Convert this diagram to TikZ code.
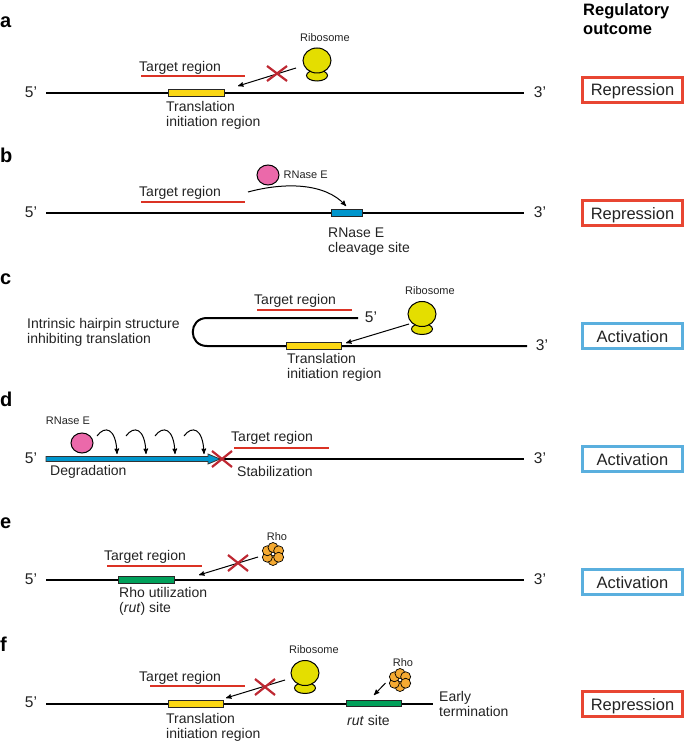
\documentclass[tikz,border=0pt]{standalone}
\usepackage{fontspec}
\setmainfont{Liberation Sans}
\usetikzlibrary{shapes}
\usetikzlibrary{arrows,positioning,calc}
\definecolor{targetred}{RGB}{219,50,36}
\definecolor{crossred}{RGB}{190,40,50}
\definecolor{boxred}{RGB}{232,70,50}
\definecolor{boxblue}{RGB}{90,175,222}
\definecolor{siteyellow}{RGB}{250,215,20}
\definecolor{riboyellow}{RGB}{228,222,0}
\definecolor{siteblue}{RGB}{0,150,205}
\definecolor{sitegreen}{RGB}{0,160,90}
\definecolor{rnasepink}{RGB}{235,105,170}
\definecolor{rhoorange}{RGB}{245,170,50}
\definecolor{textgrey}{RGB}{35,35,35}
\tikzset{
  txt/.style={inner sep=0pt,text=textgrey,font=\fontsize{14}{15}\selectfont,anchor=west,align=left,yshift=-0.8pt},
  small/.style={inner sep=0pt,text=textgrey,font=\fontsize{11}{12}\selectfont},
  prime/.style={inner sep=0pt,text=textgrey,font=\fontsize{15.5}{16}\selectfont},
  panel/.style={inner sep=0pt,text=black,anchor=base west,font=\bfseries\fontsize{20}{20}\selectfont},
  strand/.style={draw=black,line width=2pt},
  target/.style={draw=targetred,line width=2pt},
  site/.style={draw=black!85,line width=1pt,rectangle,inner sep=0pt,minimum width=55.5,minimum height=6.5},
  outcome/.style={draw,line width=2.2pt,rectangle,inner sep=0pt,minimum width=100,minimum height=25,text=textgrey,text height=12,text depth=0,font=\fontsize{16.5}{17}\selectfont},
  repress/.style={outcome,draw=boxred},
  activ/.style={outcome,draw=boxblue},
  riboL/.style={draw=black,line width=1pt,fill=riboyellow,ellipse,inner sep=0pt,minimum width=28,minimum height=25},
  riboS/.style={draw=black,line width=1pt,fill=riboyellow,ellipse,inner sep=0pt,minimum width=21,minimum height=11},
  rnase/.style={draw=black,line width=1pt,fill=rnasepink,ellipse,inner sep=0pt,minimum width=22,minimum height=20},
  arr/.style={-stealth',draw=black,line width=1pt},
  cross/.style={draw=crossred,line width=2.2pt},
  rhobead/.style={draw=black,line width=0.7pt,fill=rhoorange,circle,inner sep=0pt,minimum size=10},
  pics/rho/.style={code={
    \foreach \ang in {90,150,...,390}{\node[rhobead] at (\ang:6.5) {};}
  }}
}
\begin{document}
\begin{tikzpicture}[x=1pt,y=-1pt]
\useasboundingbox (0,0) rectangle (685,743);

% header
\node[inner sep=0pt,anchor=west,align=left,text=black,font=\bfseries\fontsize{16.5}{19}\selectfont] (header) at (583,19.5) {Regulatory\\outcome};

% panel a
\node[panel] (la) at (0,28) {a};
\node[prime] (a5) at (31,92) {5’};
\node[prime] (a3) at (540,92) {3’};
\coordinate (astart) at (46,93);
\coordinate (aend) at (524,93);
\draw[strand] (astart) -- (aend);
\node[txt] (atarget) at (139,67) {Target region};
\coordinate (atl) at (141,76);
\coordinate (atr) at (245,76);
\draw[target] (atl) -- (atr);
\node[site,fill=siteyellow] (asite) at (196.5,93) {};
\node[txt] (asitetxt) at (166,115) {Translation\\initiation region};
\node[riboS] (arib2) at (317,75.5) {};
\node[riboL] (arib) at (317,60.5) {};
\node[small] (aribtxt) at (325,38) {Ribosome};
\coordinate (afrom) at (296,68);
\coordinate (ato) at (238,86);
\draw[arr] (afrom) -- (ato);
\draw[cross] (267,66) -- (287,81) (267,81) -- (287,66);
\node[repress] (aout) at (632.5,90) {Repression};

% panel b
\node[panel] (lb) at (0,163) {b};
\node[prime] (b5) at (31,212) {5’};
\node[prime] (b3) at (540,212) {3’};
\coordinate (bstart) at (46,213);
\coordinate (bend) at (524,213);
\draw[strand] (bstart) -- (bend);
\node[txt] (btarget) at (139,192) {Target region};
\coordinate (btl) at (141,202);
\coordinate (btr) at (245,202);
\draw[target] (btl) -- (btr);
\node[site,fill=siteblue,minimum width=31] (bsite) at (346.5,213) {};
\node[txt] (bsitetxt) at (328,240.5) {RNase E\\cleavage site};
\node[rnase] (brnase) at (268,175) {};
\node[small,right=4pt of brnase] (brnasetxt) {RNase E};
\coordinate (bfrom) at (248,192);
\coordinate (bto) at (346,206);
\draw[arr] (bfrom) .. controls (285,182) and (325,183) .. (bto);
\node[repress] (bout) at (632.5,213) {Repression};

% panel c
\node[panel] (lc) at (0,284) {c};
\node[txt] (chair) at (27,331.5) {Intrinsic hairpin structure\\inhibiting translation};
\node[prime] (c5) at (371,317) {5’};
\node[prime] (c3) at (542,345) {3’};
\coordinate (cstart) at (358,318);
\coordinate (cend) at (527,346);
\draw[strand] (cstart) -- (207,318) .. controls (188,318) and (188,346) .. (207,346) -- (cend);
\node[txt] (ctarget) at (254,300) {Target region};
\coordinate (ctl) at (257,310);
\coordinate (ctr) at (352,310);
\draw[target] (ctl) -- (ctr);
\node[site,fill=siteyellow] (csite) at (314,346) {};
\node[txt] (csitetxt) at (287,366.5) {Translation\\initiation region};
\node[riboS] (crib2) at (422,329) {};
\node[riboL] (crib) at (422,314) {};
\node[small] (cribtxt) at (430,291) {Ribosome};
\coordinate (cfrom) at (409,324);
\coordinate (cto) at (346,343);
\draw[arr] (cfrom) -- (cto);
\node[activ] (cout) at (632.5,336) {Activation};

% panel d
\node[panel] (ld) at (0,406) {d};
\node[prime] (d5) at (31,458) {5’};
\node[prime] (d3) at (540,458) {3’};
\coordinate (dmid) at (219,459);
\coordinate (dend) at (524,459);
\draw[strand] (dmid) -- (dend);
\draw[draw=black!80,fill=siteblue,line width=0.8pt] (46,456.5) -- (208,456.5) -- (208,454) -- (220,459) -- (208,464) -- (208,461.5) -- (46,461.5) -- cycle;
\node[small] (drnasetxt) at (68,421) {RNase E};
\node[rnase] (drnase) at (82,443) {};
\foreach \i/\x in {1/97,2/126,3/155,4/184}{
  \coordinate (dfrom\i) at (\x,436);
  \coordinate (dto\i) at (\x+20,454);
  \draw[arr] (dfrom\i) .. controls (\x+8,425) and (\x+19,428) .. (dto\i);
}
\node[txt] (dtarget) at (231,437) {Target region};
\coordinate (dtl) at (234,448);
\coordinate (dtr) at (329,448);
\draw[target] (dtl) -- (dtr);
\draw[cross] (212,451) -- (232,467) (212,467) -- (232,451);
\node[txt] (ddeg) at (50,471) {Degradation};
\node[txt] (dstab) at (237,471) {Stabilization};
\node[activ] (dout) at (632.5,459) {Activation};

% panel e
\node[panel] (le) at (0,528) {e};
\node[prime] (e5) at (31,579) {5’};
\node[prime] (e3) at (540,579) {3’};
\coordinate (estart) at (46,580);
\coordinate (eend) at (524,580);
\draw[strand] (estart) -- (eend);
\node[txt] (etarget) at (104,556) {Target region};
\coordinate (etl) at (107,566);
\coordinate (etr) at (202,566);
\draw[target] (etl) -- (etr);
\node[site,fill=sitegreen] (esite) at (146.5,580) {};
\node[txt] (esitetxt) at (119,601) {Rho utilization\\(\textit{rut}) site};
\pic at (273,554) {rho};
\node[small] (erhotxt) at (277,537) {Rho};
\coordinate (efrom) at (258,557);
\coordinate (eto) at (199,575);
\draw[arr] (efrom) -- (eto);
\draw[cross] (228,555) -- (248,571) (228,571) -- (248,555);
\node[activ] (eout) at (632.5,582) {Activation};

% panel f
\node[panel] (lf) at (0,651) {f};
\node[prime] (f5) at (31,702) {5’};
\coordinate (fstart) at (46,704);
\coordinate (fend) at (433,704);
\draw[strand] (fstart) -- (fend);
\node[txt] (ftarget) at (139,677) {Target region};
\coordinate (ftl) at (150,686);
\coordinate (ftr) at (245,686);
\draw[target] (ftl) -- (ftr);
\node[site,fill=siteyellow] (fsite) at (196,704) {};
\node[txt] (fsitetxt) at (166,727) {Translation\\initiation region};
\node[riboS] (frib2) at (305,688) {};
\node[riboL] (frib) at (305,673) {};
\node[small] (fribtxt) at (314,650) {Ribosome};
\coordinate (ffrom) at (285,680);
\coordinate (fto) at (226,698);
\draw[arr] (ffrom) -- (fto);
\draw[cross] (255,679) -- (275,695) (255,695) -- (275,679);
\node[site,fill=sitegreen] (frut) at (374,703.5) {};
\node[txt] (fruttxt) at (347,720) {\textit{rut} site};
\pic at (400,680) {rho};
\node[small] (frhotxt) at (403,663) {Rho};
\coordinate (frho) at (385.5,683);
\coordinate (frhoto) at (374,695);
\draw[arr] (frho) -- (frhoto);
\node[txt] (fearly) at (439,703) {Early\\termination};
\node[repress] (fout) at (632.5,704) {Repression};
\end{tikzpicture}
\end{document}
